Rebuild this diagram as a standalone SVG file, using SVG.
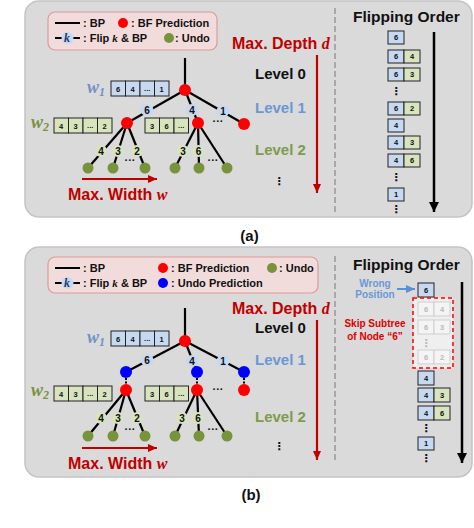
<svg xmlns="http://www.w3.org/2000/svg" width="474" height="528" viewBox="0 0 474 528">
<defs>
<style>
.panel{fill:#dadada;stroke:#c4c4c4;stroke-width:1.5}
.legend{fill:#f2dcdb;stroke:#dc9a98;stroke-width:1.2}
.t{font-family:"Liberation Sans",Arial,sans-serif;font-weight:bold}
.s{font-family:"Liberation Serif","Times New Roman",serif;font-weight:bold;font-style:italic}
.lg{font-size:11px;fill:#111}
.lvl{font-size:15px}
.edge{stroke:#000;stroke-width:2.2;fill:none}
.dot{stroke:#000;stroke-width:2;stroke-dasharray:2 1.6;fill:none}
.bb{fill:#c6d9f0}
.bg{fill:#d7e4bd}
.el{font-size:10px;text-anchor:middle;fill:#111}
.cb{fill:#c6d9f0;stroke:#222;stroke-width:1}
.cg{fill:#d7e4bd;stroke:#222;stroke-width:1}
.cf{fill:#f4f4f4;stroke:#cfcfcf;stroke-width:1}
.ct{font-size:7.5px;text-anchor:middle;fill:#111}
.cft{font-size:7.5px;text-anchor:middle;fill:#b9b9b9}
.red{fill:#ff0000}
.grn{fill:#77933c}
.blu{fill:#0000ff}
.div{stroke:#a8a8a8;stroke-width:2;stroke-dasharray:6 3;fill:none}
.vd{font-family:"DejaVu Sans",sans-serif;font-weight:bold;font-size:11px;text-anchor:middle;fill:#111}
.hd{font-size:11px;fill:#111;text-anchor:middle}
.rarr{stroke:#c00000;stroke-width:2.2;fill:none}
.karr{stroke:#000;stroke-width:2.5;fill:none}
</style>
<marker id="mr" markerWidth="10" markerHeight="10" refX="9" refY="5" orient="auto" markerUnits="userSpaceOnUse"><path d="M0,1 L9,5 L0,9 z" fill="#c00000"/></marker>
<marker id="mk" markerWidth="12" markerHeight="12" refX="10" refY="6" orient="auto" markerUnits="userSpaceOnUse"><path d="M0,1 L10,6 L0,11 z" fill="#000"/></marker>
<marker id="mb" markerWidth="10" markerHeight="10" refX="9" refY="5" orient="auto" markerUnits="userSpaceOnUse"><path d="M0,1 L9,5 L0,9 z" fill="#5b8fd6"/></marker>
</defs>

<!-- ================= PANEL A ================= -->
<g id="panelA">
<rect class="panel" x="25" y="1" width="447" height="216" rx="14"/>
<line class="div" x1="335" y1="8" x2="335" y2="214"/>
</g>

<g id="legendA">
<rect class="legend" x="48" y="12" width="169" height="38" rx="7"/>
<line x1="55" y1="23" x2="80" y2="23" stroke="#000" stroke-width="2"/>
<text class="t lg" x="83" y="27">: BP</text>
<circle class="red" cx="123" cy="23" r="5"/>
<text class="t lg" x="131" y="27">: BF Prediction</text>
<line x1="55" y1="38" x2="80" y2="38" stroke="#000" stroke-width="2"/>
<ellipse class="bb" cx="67.5" cy="38" rx="6" ry="6"/>
<text class="s" x="64" y="42" font-size="12" fill="#1f3a6e">k</text>
<text class="t lg" x="83" y="42">: Flip <tspan class="s">k</tspan> &amp; BP</text>
<circle class="grn" cx="169" cy="38" r="5"/>
<text class="t lg" x="175" y="42">: Undo</text>
</g>

<g id="connectorsA">
<line class="edge" x1="185" y1="58" x2="185" y2="90"/>
<line class="edge" x1="185" y1="90" x2="127" y2="123"/>
<line class="edge" x1="185" y1="90" x2="198" y2="123"/>
<line class="edge" x1="185" y1="90" x2="244" y2="124"/>
<line class="edge" x1="127" y1="123" x2="88" y2="168"/>
<line class="edge" x1="127" y1="123" x2="113" y2="168"/>
<line class="edge" x1="127" y1="123" x2="145" y2="168"/>
<line class="edge" x1="198" y1="123" x2="175" y2="168"/>
<line class="edge" x1="198" y1="123" x2="199" y2="168"/>
<line class="edge" x1="198" y1="123" x2="227" y2="168"/>
<ellipse class="bb" cx="147" cy="110" rx="6.5" ry="6"/><text class="t el" x="147" y="113.5">6</text>
<ellipse class="bb" cx="192" cy="110" rx="6.5" ry="6"/><text class="t el" x="192" y="113.5">4</text>
<ellipse class="bb" cx="223" cy="111" rx="6.5" ry="6"/><text class="t el" x="223" y="114.5">1</text>
<ellipse class="bg" cx="101" cy="151" rx="6" ry="6"/><text class="t el" x="101" y="154.5">4</text>
<ellipse class="bg" cx="118" cy="151" rx="6" ry="6"/><text class="t el" x="118" y="154.5">3</text>
<ellipse class="bg" cx="137" cy="151" rx="6" ry="6"/><text class="t el" x="137" y="154.5">2</text>
<ellipse class="bg" cx="183" cy="151" rx="6" ry="6"/><text class="t el" x="183" y="154.5">3</text>
<ellipse class="bg" cx="198.5" cy="151" rx="6" ry="6"/><text class="t el" x="198.5" y="154.5">6</text>
<text class="t hd" x="130" y="164">···</text>
<text class="t hd" x="213" y="164">···</text>
<text class="t hd" x="218" y="125">···</text>
</g>

<g id="nodesA">
<g id="a-root"><circle class="red" cx="185" cy="90" r="6"/></g>
<g id="a-n6"><circle class="red" cx="127" cy="123" r="6"/></g>
<g id="a-n4"><circle class="red" cx="198" cy="123" r="6"/></g>
<g id="a-n1"><circle class="red" cx="244" cy="124" r="6"/></g>
<g id="a-l2"><circle class="grn" cx="88" cy="168" r="5.5"/><circle class="grn" cx="113" cy="168" r="5.5"/><circle class="grn" cx="145" cy="168" r="5.5"/><circle class="grn" cx="175" cy="168" r="5.5"/><circle class="grn" cx="199" cy="168" r="5.5"/><circle class="grn" cx="227" cy="168" r="5.5"/></g>
</g>

<g id="arraysA">
<text class="s" x="87" y="93" font-size="18" fill="#7092c8">w<tspan font-size="12" dy="3">1</tspan></text>
<rect class="cb" x="111" y="81" width="14.5" height="15"/><rect class="cb" x="125.5" y="81" width="14.5" height="15"/><rect class="cb" x="140" y="81" width="14.5" height="15"/><rect class="cb" x="154.5" y="81" width="14.5" height="15"/>
<text class="t ct" x="118.2" y="91.5">6</text><text class="t ct" x="132.7" y="91.5">4</text><text class="t ct" x="147.2" y="91">...</text><text class="t ct" x="161.7" y="91.5">1</text>
<text class="s" x="31" y="128" font-size="18" fill="#77933c">w<tspan font-size="12" dy="3">2</tspan></text>
<rect class="cg" x="54" y="118" width="14.5" height="15"/><rect class="cg" x="68.5" y="118" width="14.5" height="15"/><rect class="cg" x="83" y="118" width="14.5" height="15"/><rect class="cg" x="97.5" y="118" width="14.5" height="15"/>
<text class="t ct" x="61.2" y="128.5">4</text><text class="t ct" x="75.7" y="128.5">3</text><text class="t ct" x="90.2" y="128">...</text><text class="t ct" x="104.7" y="128.5">2</text>
<rect class="cg" x="145" y="118" width="14.5" height="15"/><rect class="cg" x="159.5" y="118" width="14.5" height="15"/><rect class="cg" x="174" y="118" width="14.5" height="15"/>
<text class="t ct" x="152.2" y="128.5">3</text><text class="t ct" x="166.7" y="128.5">6</text><text class="t ct" x="181.2" y="128">...</text>
</g>

<g id="labelsA">
<line class="rarr" x1="82" y1="179" x2="157" y2="179" marker-end="url(#mr)"/>
<text class="t" x="68" y="200" font-size="16" fill="#c00000">Max. Width <tspan class="s">w</tspan></text>
<text class="t" x="232" y="49" font-size="16" fill="#c00000">Max. Depth <tspan class="s">d</tspan></text>
<line class="rarr" x1="317" y1="55" x2="317" y2="193" marker-end="url(#mr)"/>
<text class="t lvl" x="255" y="79" fill="#111">Level 0</text>
<text class="t lvl" x="255" y="113" fill="#6a98d4">Level 1</text>
<text class="t lvl" x="255" y="155" fill="#7e9c4b">Level 2</text>
<text class="vd" x="279" y="185">⋮</text>
<text class="t" x="353" y="22" font-size="15.5" fill="#111">Flipping Order</text>
<line class="karr" x1="434" y1="32" x2="434" y2="212" marker-end="url(#mk)"/>
</g>

<g id="orderA">
<rect class="cb" x="388" y="31" width="16" height="13"/><text class="t ct" x="396" y="40">6</text>
<rect class="cb" x="388" y="50" width="16" height="13"/><text class="t ct" x="396" y="59">6</text><rect class="cg" x="404" y="50" width="16" height="13"/><text class="t ct" x="412" y="59">4</text>
<rect class="cb" x="388" y="68" width="16" height="13"/><text class="t ct" x="396" y="77">6</text><rect class="cg" x="404" y="68" width="16" height="13"/><text class="t ct" x="412" y="77">3</text>
<text class="vd" x="396" y="95">⋮</text>
<rect class="cb" x="388" y="102" width="16" height="13"/><text class="t ct" x="396" y="111">6</text><rect class="cg" x="404" y="102" width="16" height="13"/><text class="t ct" x="412" y="111">2</text>
<rect class="cb" x="388" y="119" width="16" height="13"/><text class="t ct" x="396" y="128">4</text>
<rect class="cb" x="388" y="136" width="16" height="13"/><text class="t ct" x="396" y="145">4</text><rect class="cg" x="404" y="136" width="16" height="13"/><text class="t ct" x="412" y="145">3</text>
<rect class="cb" x="388" y="154" width="16" height="13"/><text class="t ct" x="396" y="163">4</text><rect class="cg" x="404" y="154" width="16" height="13"/><text class="t ct" x="412" y="163">6</text>
<text class="vd" x="396" y="181">⋮</text>
<rect class="cb" x="388" y="188" width="16" height="13"/><text class="t ct" x="396" y="197">1</text>
<text class="vd" x="396" y="213">⋮</text>
</g>

<text class="t" x="249.5" y="241" font-size="15" text-anchor="middle" fill="#111">(a)</text>

<!-- ================= PANEL B ================= -->
<g id="panelB">
<rect class="panel" x="25" y="247" width="447" height="230" rx="14"/>
<line class="div" x1="335" y1="256" x2="335" y2="462"/>
</g>

<g id="legendB">
<rect class="legend" x="48" y="257" width="270" height="36" rx="7"/>
<line x1="55" y1="268" x2="80" y2="268" stroke="#000" stroke-width="2"/>
<text class="t lg" x="83" y="272">: BP</text>
<circle class="red" cx="163" cy="268" r="5"/>
<text class="t lg" x="171" y="272">: BF Prediction</text>
<circle class="grn" cx="272" cy="268" r="5"/>
<text class="t lg" x="279" y="272">: Undo</text>
<line x1="55" y1="283" x2="80" y2="283" stroke="#000" stroke-width="2"/>
<ellipse class="bb" cx="67.5" cy="283" rx="6" ry="6"/>
<text class="s" x="64" y="287" font-size="12" fill="#1f3a6e">k</text>
<text class="t lg" x="83" y="287">: Flip <tspan class="s">k</tspan> &amp; BP</text>
<circle class="blu" cx="163" cy="283" r="5"/>
<text class="t lg" x="171" y="287">: Undo Prediction</text>
</g>

<g id="connectorsB">
<line class="edge" x1="185" y1="308" x2="185" y2="341"/>
<line class="edge" x1="185" y1="341" x2="126" y2="372"/>
<line class="edge" x1="185" y1="341" x2="197" y2="372"/>
<line class="edge" x1="185" y1="341" x2="244" y2="372"/>
<line class="dot" x1="126" y1="378" x2="126" y2="384"/>
<line class="dot" x1="197" y1="378" x2="197" y2="384"/>
<line class="dot" x1="244" y1="378" x2="244" y2="384"/>
<line class="edge" x1="126" y1="390" x2="88" y2="436"/>
<line class="edge" x1="126" y1="390" x2="113" y2="436"/>
<line class="edge" x1="126" y1="390" x2="145" y2="436"/>
<line class="edge" x1="197" y1="390" x2="175" y2="436"/>
<line class="edge" x1="197" y1="390" x2="199" y2="436"/>
<line class="edge" x1="197" y1="390" x2="227" y2="436"/>
<ellipse class="bb" cx="147" cy="360" rx="6.5" ry="6"/><text class="t el" x="147" y="363.5">6</text>
<ellipse class="bb" cx="192" cy="361" rx="6.5" ry="6"/><text class="t el" x="192" y="364.5">4</text>
<ellipse class="bb" cx="223" cy="361" rx="6.5" ry="6"/><text class="t el" x="223" y="364.5">1</text>
<ellipse class="bg" cx="101" cy="418" rx="6" ry="6"/><text class="t el" x="101" y="421.5">4</text>
<ellipse class="bg" cx="118" cy="418" rx="6" ry="6"/><text class="t el" x="118" y="421.5">3</text>
<ellipse class="bg" cx="137" cy="418" rx="6" ry="6"/><text class="t el" x="137" y="421.5">2</text>
<ellipse class="bg" cx="182" cy="418" rx="6" ry="6"/><text class="t el" x="182" y="421.5">3</text>
<ellipse class="bg" cx="198" cy="418" rx="6" ry="6"/><text class="t el" x="198" y="421.5">6</text>
<text class="t hd" x="130" y="433">···</text>
<text class="t hd" x="213" y="433">···</text>
<text class="t hd" x="218" y="393">···</text>
</g>

<g id="nodesB">
<g id="b-root"><circle class="red" cx="185" cy="341" r="6"/></g>
<g id="b-u6"><circle class="blu" cx="126" cy="372" r="6"/></g>
<g id="b-u4"><circle class="blu" cx="197" cy="372" r="6"/></g>
<g id="b-u1"><circle class="blu" cx="244" cy="372" r="6"/></g>
<g id="b-n6"><circle class="red" cx="126" cy="390" r="6"/></g>
<g id="b-n4"><circle class="red" cx="197" cy="390" r="6"/></g>
<g id="b-n1"><circle class="red" cx="244" cy="390" r="6"/></g>
<g id="b-l2"><circle class="grn" cx="88" cy="436" r="5.5"/><circle class="grn" cx="113" cy="436" r="5.5"/><circle class="grn" cx="145" cy="436" r="5.5"/><circle class="grn" cx="175" cy="436" r="5.5"/><circle class="grn" cx="199" cy="436" r="5.5"/><circle class="grn" cx="227" cy="436" r="5.5"/></g>
</g>

<g id="arraysB">
<text class="s" x="87" y="343" font-size="18" fill="#7092c8">w<tspan font-size="12" dy="3">1</tspan></text>
<rect class="cb" x="111" y="331" width="14.5" height="15"/><rect class="cb" x="125.5" y="331" width="14.5" height="15"/><rect class="cb" x="140" y="331" width="14.5" height="15"/><rect class="cb" x="154.5" y="331" width="14.5" height="15"/>
<text class="t ct" x="118.2" y="341.5">6</text><text class="t ct" x="132.7" y="341.5">4</text><text class="t ct" x="147.2" y="341">...</text><text class="t ct" x="161.7" y="341.5">1</text>
<text class="s" x="31" y="396" font-size="18" fill="#77933c">w<tspan font-size="12" dy="3">2</tspan></text>
<rect class="cg" x="54" y="386" width="14.5" height="15"/><rect class="cg" x="68.5" y="386" width="14.5" height="15"/><rect class="cg" x="83" y="386" width="14.5" height="15"/><rect class="cg" x="97.5" y="386" width="14.5" height="15"/>
<text class="t ct" x="61.2" y="396.5">4</text><text class="t ct" x="75.7" y="396.5">3</text><text class="t ct" x="90.2" y="396">...</text><text class="t ct" x="104.7" y="396.5">2</text>
<rect class="cg" x="145" y="386" width="14.5" height="15"/><rect class="cg" x="159.5" y="386" width="14.5" height="15"/><rect class="cg" x="174" y="386" width="14.5" height="15"/>
<text class="t ct" x="152.2" y="396.5">3</text><text class="t ct" x="166.7" y="396.5">6</text><text class="t ct" x="181.2" y="396">...</text>
</g>

<g id="labelsB">
<line class="rarr" x1="82" y1="448" x2="157" y2="448" marker-end="url(#mr)"/>
<text class="t" x="68" y="469" font-size="16" fill="#c00000">Max. Width <tspan class="s">w</tspan></text>
<text class="t" x="232" y="314" font-size="16" fill="#c00000">Max. Depth <tspan class="s">d</tspan></text>
<line class="rarr" x1="317" y1="320" x2="317" y2="460" marker-end="url(#mr)"/>
<text class="t lvl" x="255" y="333" fill="#111">Level 0</text>
<text class="t lvl" x="255" y="365" fill="#6a98d4">Level 1</text>
<text class="t lvl" x="255" y="422" fill="#7e9c4b">Level 2</text>
<text class="vd" x="279" y="450">⋮</text>
<text class="t" x="353" y="270" font-size="15.5" fill="#111">Flipping Order</text>
<line class="karr" x1="462" y1="282" x2="462" y2="463" marker-end="url(#mk)"/>
<text class="t" x="375" y="287" font-size="10" text-anchor="middle" fill="#6a98d4">Wrong</text>
<text class="t" x="375" y="298" font-size="10" text-anchor="middle" fill="#6a98d4">Position</text>
<line x1="397" y1="289" x2="415" y2="289" stroke="#5b8fd6" stroke-width="2" marker-end="url(#mb)"/>
<text class="t" x="375" y="327" font-size="10" text-anchor="middle" fill="#e00000">Skip Subtree</text>
<text class="t" x="375" y="340" font-size="10" text-anchor="middle" fill="#e00000">of Node “6”</text>
</g>

<g id="orderB">
<rect class="cb" x="418" y="283" width="16" height="14"/><text class="t ct" x="426" y="292.5">6</text>
<rect x="413" y="298" width="40" height="70" fill="#efefef" stroke="#ff0000" stroke-width="1.5" stroke-dasharray="4 3"/>
<rect class="cf" x="418" y="302" width="16" height="14"/><text class="t cft" x="426" y="311.5">6</text><rect class="cf" x="434" y="302" width="16" height="14"/><text class="t cft" x="442" y="311.5">4</text>
<rect class="cf" x="418" y="320" width="16" height="14"/><text class="t cft" x="426" y="329.5">6</text><rect class="cf" x="434" y="320" width="16" height="14"/><text class="t cft" x="442" y="329.5">3</text>
<text class="vd" x="426" y="347" style="fill:#b9b9b9">⋮</text>
<rect class="cf" x="418" y="350" width="16" height="14"/><text class="t cft" x="426" y="359.5">6</text><rect class="cf" x="434" y="350" width="16" height="14"/><text class="t cft" x="442" y="359.5">2</text>
<rect class="cb" x="418" y="371" width="16" height="14"/><text class="t ct" x="426" y="380.5">4</text>
<rect class="cb" x="418" y="388" width="16" height="14"/><text class="t ct" x="426" y="397.5">4</text><rect class="cg" x="434" y="388" width="16" height="14"/><text class="t ct" x="442" y="397.5">3</text>
<rect class="cb" x="418" y="406" width="16" height="14"/><text class="t ct" x="426" y="415.5">4</text><rect class="cg" x="434" y="406" width="16" height="14"/><text class="t ct" x="442" y="415.5">6</text>
<text class="vd" x="426" y="432">⋮</text>
<rect class="cb" x="418" y="437" width="16" height="13"/><text class="t ct" x="426" y="446">1</text>
<text class="vd" x="426" y="462">⋮</text>
</g>

<text class="t" x="251" y="500" font-size="15" text-anchor="middle" fill="#111">(b)</text>
</svg>
